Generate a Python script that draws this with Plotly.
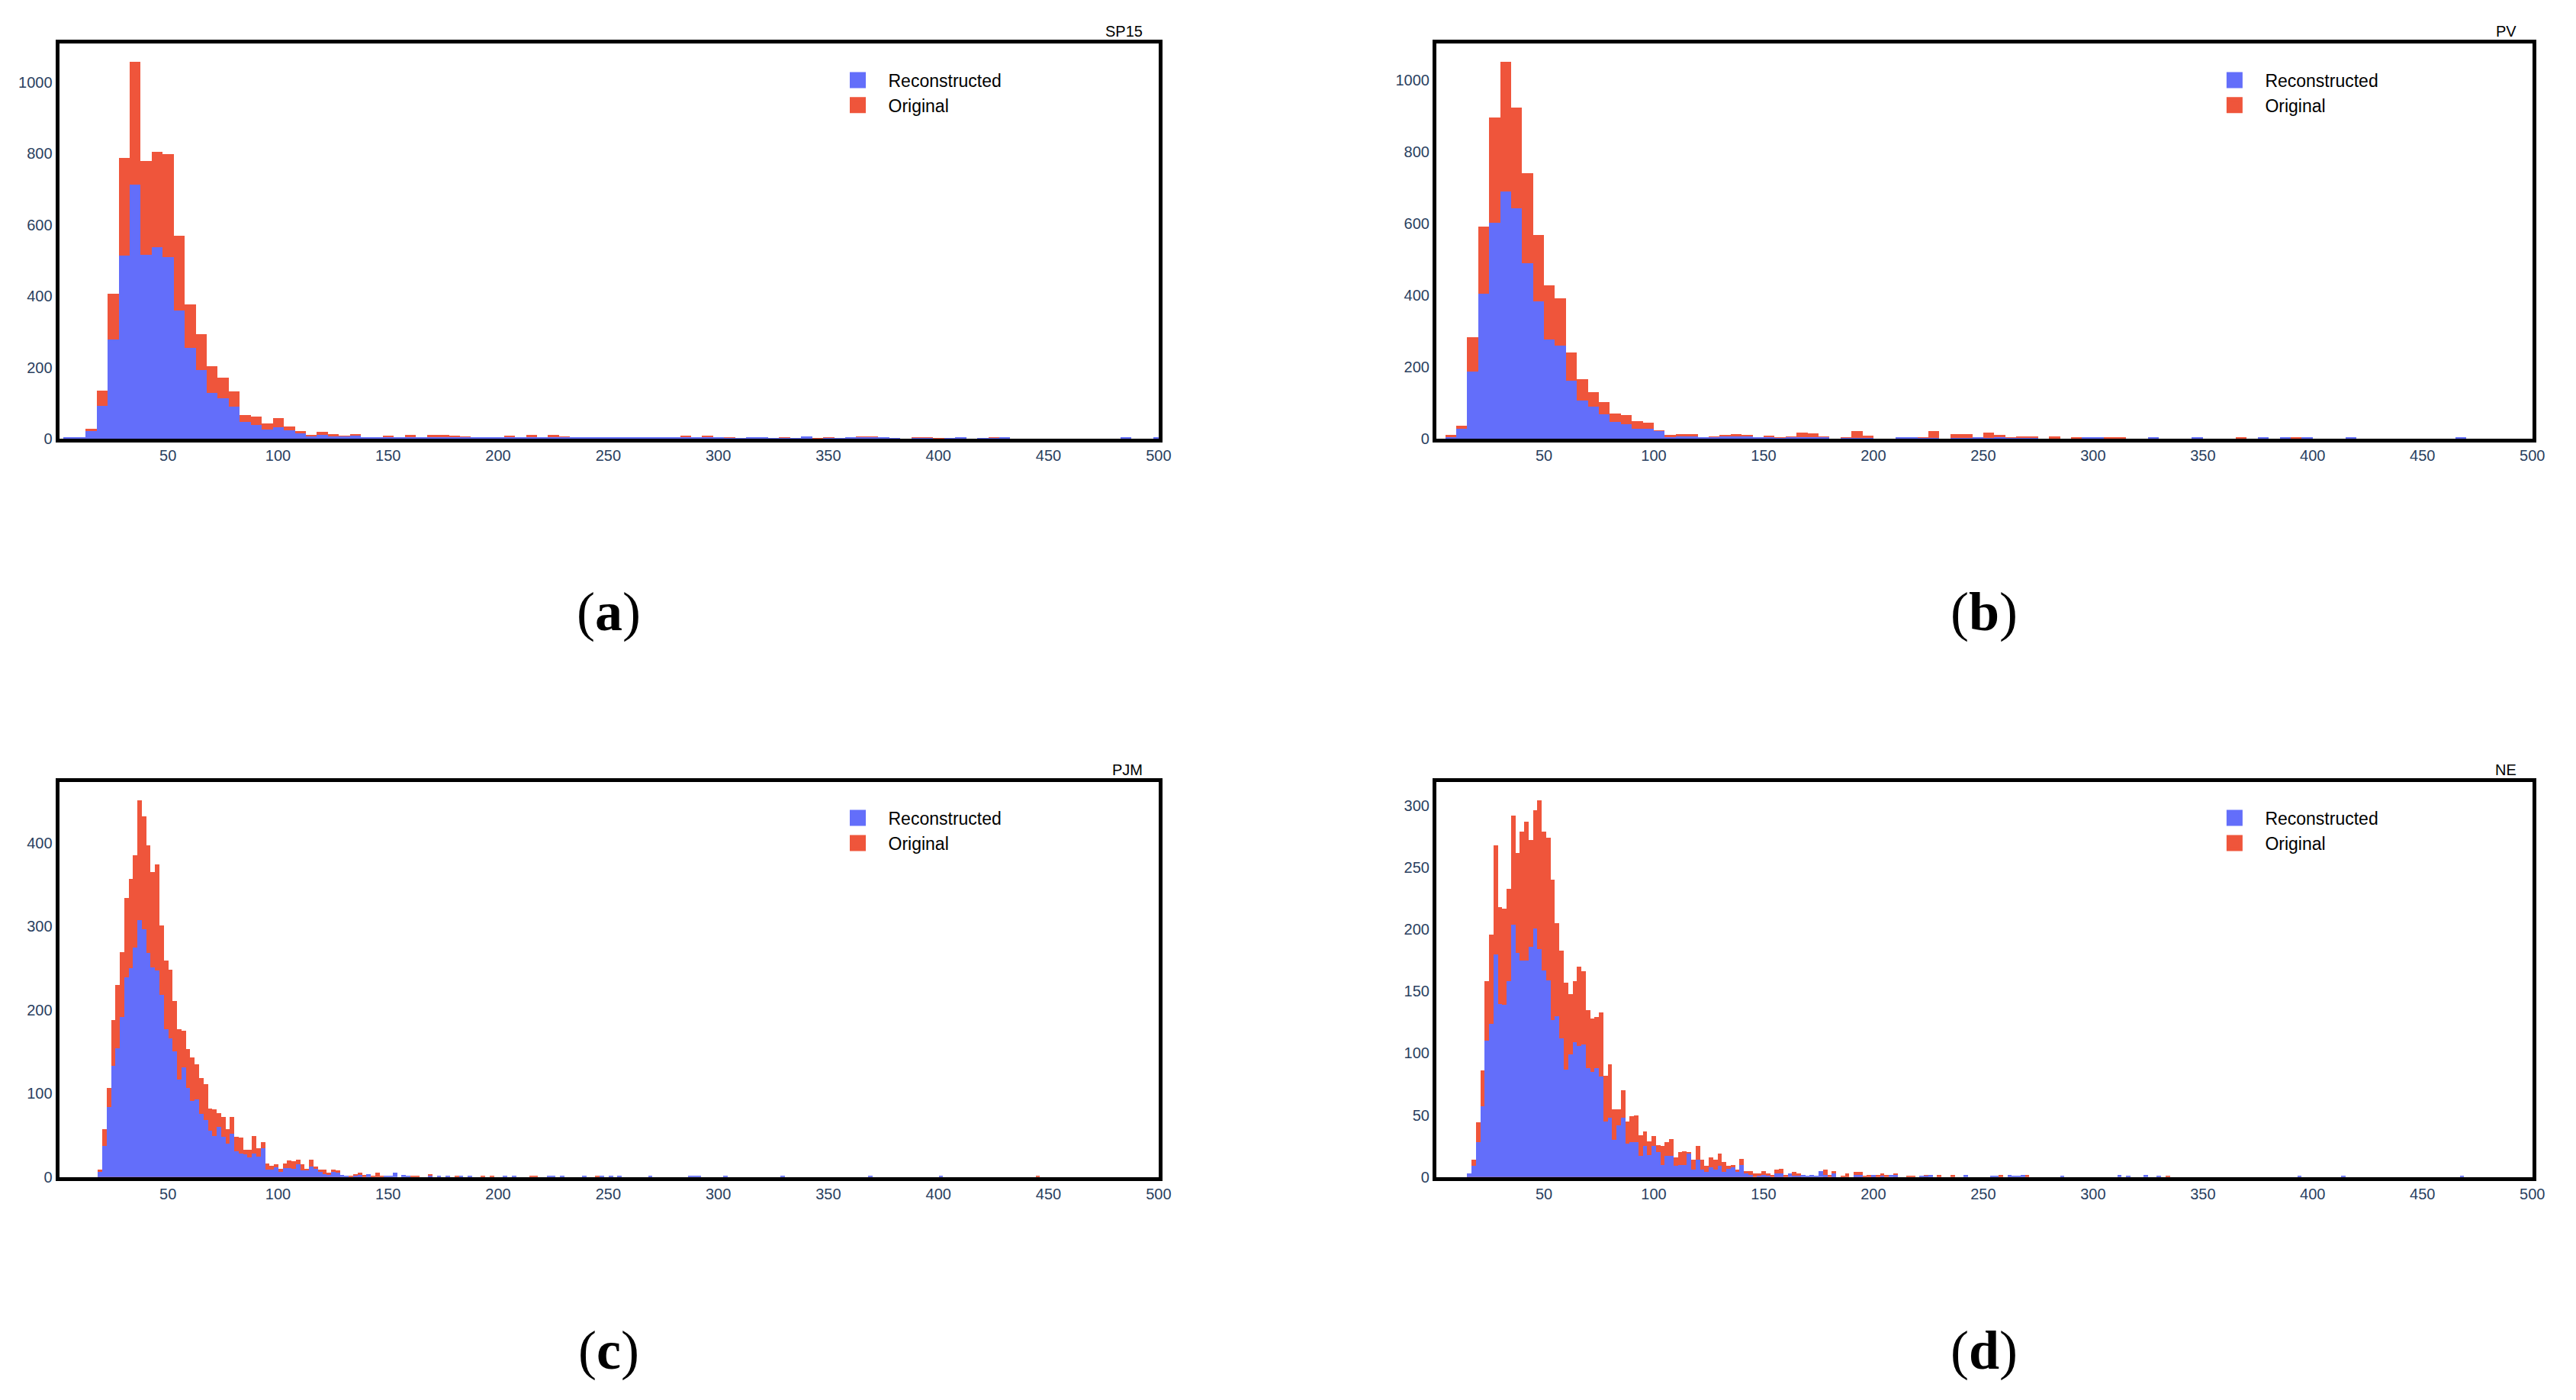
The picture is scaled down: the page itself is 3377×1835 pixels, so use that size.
import numpy as np
import plotly.graph_objects as go
from plotly.subplots import make_subplots

# ---- SP15: 5-wide bins centred on 5, 10, ..., 500
sp15_centers = list(range(5, 505, 5))
sp15_orig = [0, 2, 28, 134, 407, 787, 1057, 778, 804, 798,
             568, 377, 292, 202, 170, 132, 66, 62, 43, 57,
             34, 21, 11, 19, 13, 8, 13, 4, 5, 8,
             4, 11, 5, 11, 11, 9, 7, 5, 5, 3,
             8, 3, 11, 3, 11, 7, 4, 3, 5, 2,
             5, 5, 2, 4, 4, 2, 8, 3, 8, 3,
             2, 1, 1, 1, 1, 4, 1, 2, 1, 4,
             0, 1, 6, 6, 2, 1, 0, 4, 4, 1,
             0, 1, 0, 0, 5, 1, 0, 0, 0, 0,
             0, 0, 0, 0, 0, 0, 0, 0, 0, 0]
sp15_recon = [2, 2, 22, 92, 278, 513, 713, 516, 537, 508,
              360, 254, 193, 128, 113, 90, 46, 38, 26, 31,
              23, 15, 7, 11, 6, 6, 8, 3, 3, 4,
              3, 4, 4, 5, 4, 4, 3, 3, 2, 2,
              3, 2, 5, 2, 4, 3, 3, 4, 2, 2,
              2, 2, 2, 2, 2, 2, 2, 2, 2, 3,
              1, 1, 3, 3, 1, 1, 1, 6, 0, 1,
              1, 3, 3, 3, 3, 1, 0, 1, 1, 0,
              1, 4, 0, 1, 1, 3, 0, 0, 0, 0,
              0, 0, 0, 0, 0, 0, 4, 0, 0, 3]

# ---- PV: 5-wide bins centred on 2.5, 7.5, ..., 497.5
pv_centers = [2.5 + 5 * i for i in range(100)]
pv_orig = [0, 10, 35, 282, 592, 896, 1050, 923, 741, 567,
           428, 392, 240, 166, 129, 101, 69, 65, 48, 45,
           24, 10, 13, 13, 5, 7, 10, 13, 10, 3,
           8, 2, 6, 17, 15, 6, 0, 4, 21, 8,
           0, 0, 0, 0, 3, 21, 0, 13, 13, 0,
           17, 10, 3, 6, 6, 0, 6, 0, 3, 0,
           0, 4, 4, 0, 0, 0, 0, 0, 0, 0,
           0, 0, 0, 4, 0, 0, 0, 0, 4, 0,
           0, 0, 0, 0, 0, 0, 0, 0, 0, 0,
           0, 0, 0, 0, 0, 0, 0, 0, 0, 0]
pv_recon = [0, 5, 27, 188, 404, 601, 690, 642, 489, 382,
            276, 259, 161, 107, 89, 67, 47, 41, 27, 27,
            20, 5, 7, 6, 2, 3, 7, 7, 6, 2,
            5, 1, 4, 2, 4, 2, 0, 1, 1, 1,
            0, 0, 4, 4, 1, 1, 0, 1, 1, 4,
            1, 4, 1, 1, 1, 0, 0, 0, 0, 4,
            4, 0, 0, 0, 0, 4, 0, 0, 0, 4,
            0, 0, 0, 0, 0, 4, 0, 4, 0, 4,
            0, 0, 0, 4, 0, 0, 0, 0, 0, 0,
            0, 0, 0, 4, 0, 0, 0, 0, 0, 0]

# ---- PJM: 2-wide bins, dense part from centre 19 to 163, then sparse tail
pjm_start = 19
pjm_orig = [9, 57, 107, 188, 230, 269, 334, 357, 385, 451,
            432, 397, 365, 374, 301, 259, 248, 211, 177, 175,
            153, 143, 135, 119, 111, 82, 81, 77, 72, 57,
            72, 48, 47, 33, 33, 49, 35, 42, 16, 14,
            15, 10, 16, 20, 19, 21, 15, 10, 21, 13,
            9, 9, 5, 9, 8, 0, 0, 2, 4, 5,
            3, 0, 2, 5, 1, 0, 0, 0, 0, 0,
            0, 2, 2]
pjm_recon = [6, 37, 84, 133, 154, 192, 239, 250, 275, 308,
             297, 268, 251, 247, 218, 177, 166, 151, 117, 131,
             107, 91, 93, 76, 68, 56, 49, 60, 48, 40,
             52, 31, 28, 27, 24, 28, 25, 35, 9, 9,
             12, 6, 11, 11, 10, 15, 8, 8, 13, 10,
             6, 4, 3, 6, 5, 3, 2, 0, 2, 3,
             0, 4, 0, 0, 0, 1, 2, 5, 0, 3,
             1, 0, 0]
pjm_tail_x = [169, 173, 177, 181, 183, 187, 193, 197, 203, 207,
              215, 217, 223, 225, 229, 239, 245, 247, 251, 255,
              269, 287, 289, 291, 303, 329, 369, 401, 445]
pjm_tail_orig = [4, 0, 0, 2, 0, 0, 1, 1, 0, 0,
                 2, 1, 0, 0, 0, 0, 1, 0, 0, 0,
                 0, 0, 0, 0, 0, 0, 0, 0, 2]
pjm_tail_recon = [1, 1, 1, 0, 1, 1, 0, 0, 1, 1,
                  0, 0, 1, 1, 1, 1, 0, 1, 1, 1,
                  1, 1, 1, 1, 1, 1, 1, 1, 0]

# ---- NE: 2-wide bins, dense part from centre 16 to 182, then sparse tail
ne_start = 16
ne_orig = [3, 14, 44, 86, 158, 196, 268, 218, 217, 233,
           292, 262, 279, 287, 272, 296, 304, 279, 274, 240,
           205, 183, 157, 148, 158, 170, 166, 135, 128, 129,
           133, 82, 91, 55, 55, 70, 45, 49, 50, 34,
           37, 29, 33, 26, 25, 28, 31, 16, 20, 21,
           20, 14, 25, 14, 9, 16, 14, 19, 12, 9,
           10, 6, 15, 5, 5, 3, 3, 5, 3, 2,
           6, 7, 2, 0, 4, 3, 0, 0, 0, 0,
           0, 6, 2, 5]
ne_recon = [3, 9, 28, 57, 110, 124, 180, 140, 139, 158,
            204, 181, 175, 175, 186, 201, 184, 167, 159, 127,
            130, 112, 87, 99, 109, 106, 107, 88, 85, 88,
            81, 45, 48, 30, 42, 48, 27, 28, 28, 17,
            25, 18, 25, 20, 10, 17, 17, 9, 10, 10,
            19, 6, 14, 6, 4, 8, 6, 9, 4, 7,
            8, 4, 10, 3, 2, 0, 1, 2, 1, 0,
            3, 3, 0, 3, 1, 1, 2, 1, 2, 1,
            5, 2, 0, 3]
ne_tail_x = [186, 188, 192, 194, 196, 198, 200, 202, 204, 206,
             208, 210, 216, 218, 222, 224, 226, 230, 236, 242,
             254, 256, 258, 262, 264, 266, 268, 270, 286, 312,
             316, 324, 330, 334, 394, 414, 468]
ne_tail_orig = [1, 3, 4, 4, 1, 2, 2, 2, 3, 2,
                0, 3, 1, 1, 0, 2, 0, 2, 2, 0,
                0, 0, 2, 0, 0, 0, 0, 2, 0, 0,
                0, 0, 0, 1, 0, 0, 0]
ne_tail_recon = [0, 0, 2, 2, 0, 0, 2, 0, 1, 0,
                 2, 2, 0, 0, 1, 1, 2, 0, 0, 2,
                 1, 1, 0, 2, 1, 1, 2, 0, 1, 2,
                 1, 2, 1, 0, 1, 1, 1]

titles = ["SP15", "PV", "PJM", "NE"]
captions = ["a", "b", "c", "d"]
y_dticks = [200, 200, 100, 50]
y_tops = [1108, 1102, 473, 319]
x_starts = [0.6, 1.0, 0.6, 1.0]

pjm_centers = list(range(pjm_start, pjm_start + 2 * len(pjm_orig), 2)) + pjm_tail_x
ne_centers = list(range(ne_start, ne_start + 2 * len(ne_orig), 2)) + ne_tail_x
panels = [
    (sp15_centers, sp15_orig, sp15_recon, 5),
    (pv_centers, pv_orig, pv_recon, 5),
    (pjm_centers, pjm_orig + pjm_tail_orig, pjm_recon + pjm_tail_recon, 2),
    (ne_centers, ne_orig + ne_tail_orig, ne_recon + ne_tail_recon, 2),
]

BLUE = "#636efa"
RED = "#ef553b"
W, H = 3377, 1835   # reference size; positions are given as fractions of it


def fx(px):
    return px / W


def fy(py):
    return 1 - py / H


fig = make_subplots(rows=2, cols=2)

# plot areas (inside the 5px frame)
xdom = [[fx(78), fx(1526.5)], [fx(1892.5), fx(3336.5)]]
ydom = [[fy(578.5), fy(57.5)], [fy(1552), fy(1031)]]
legend_names = ["legend", "legend2", "legend3", "legend4"]

for k, (cx, orig, recon, bw) in enumerate(panels):
    r, c = k // 2 + 1, k % 2 + 1
    lg = legend_names[k]
    fig.add_trace(go.Bar(x=cx, y=orig, width=bw, marker=dict(color=RED, line_width=0),
                         name="Original", showlegend=False), row=r, col=c)
    fig.add_trace(go.Bar(x=cx, y=recon, width=bw, marker=dict(color=BLUE, line_width=0),
                         name="Reconstructed", showlegend=False), row=r, col=c)
    # legend keys
    for nm, col in [("Reconstructed", BLUE), ("Original", RED)]:
        fig.add_trace(go.Scatter(x=[None], y=[None], mode="markers", name=nm, legend=lg,
                                 marker=dict(symbol="square", size=16, color=col,
                                             line=dict(color=col, width=5))),
                      row=r, col=c)
    fig.update_xaxes(domain=xdom[c - 1], range=[x_starts[k], 500], dtick=50, tick0=0,
                     row=r, col=c)
    fig.update_yaxes(domain=ydom[r - 1], range=[0, y_tops[k]], dtick=y_dticks[k],
                     row=r, col=c)

    xd = xdom[c - 1]
    yd = ydom[r - 1]
    fig.add_annotation(text=titles[k], xref="paper", yref="paper", x=xd[1] - 19 / W,
                       y=yd[1] + 16 / H, xanchor="right", yanchor="middle", showarrow=False,
                       font=dict(family="Liberation Sans", size=20, color="black"))
    fig.add_annotation(text="(<b>%s</b>)" % captions[k], xref="paper", yref="paper",
                       x=(xd[0] + xd[1]) / 2, y=yd[0] - 228.5 / H, xanchor="center",
                       yanchor="middle", showarrow=False,
                       font=dict(family="Liberation Serif", size=72, color="black"))

fig.update_xaxes(showline=True, linecolor="black", linewidth=5, mirror=True, showgrid=False,
                 zeroline=False, ticks="", tickfont=dict(family="Liberation Sans", size=20, color="#2a3f5f"))
fig.update_yaxes(showline=True, linecolor="black", linewidth=5, mirror=True, showgrid=False,
                 zeroline=False, ticks="", tickfont=dict(family="Liberation Sans", size=20, color="#2a3f5f"))

leg_style = dict(font=dict(family="Liberation Sans", size=23, color="black"), itemwidth=70,
                 bgcolor="rgba(0,0,0,0)", borderwidth=0, xanchor="left", yanchor="top")
leg_pos = [(1090, 84), (2904, 84), (1090, 1057), (2904, 1057)]
legends = {}
for lg, (lx, ly) in zip(legend_names, leg_pos):
    legends[lg] = dict(leg_style, x=fx(lx), y=fy(ly))

fig.update_layout(barmode="overlay", bargap=0,
                  template="plotly_white", plot_bgcolor="white", paper_bgcolor="white",
                  margin=dict(l=0, r=0, t=0, b=0), **legends)

# figure fills the browser window; drop the default 8px page margin
fig.write_html("out.html", config={"displayModeBar": False},
               default_width="100vw", default_height="100vh",
               post_script="document.body.style.margin='0';document.body.style.overflow='hidden';")
